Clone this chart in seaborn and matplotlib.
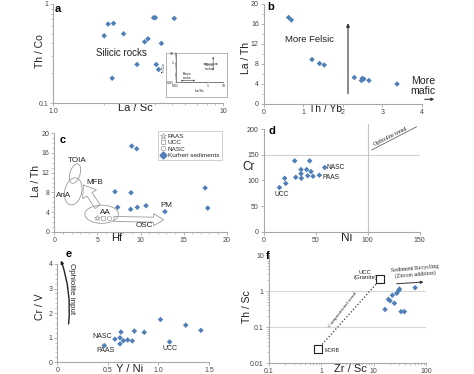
import matplotlib

matplotlib.use("Agg")

import matplotlib.pyplot as plt
import seaborn as sns
from matplotlib.lines import Line2D
from matplotlib.patches import Ellipse
from matplotlib.ticker import AutoMinorLocator, NullFormatter

# ---- data ----
a_la_sc = [2.00, 2.11, 2.27, 2.60, 3.12, 2.23, 3.46, 3.62, 3.91, 4.00, 4.05, 4.18, 4.34, 5.17]
a_th_co = [0.478, 0.627, 0.637, 0.50, 0.245, 0.178, 0.415, 0.445, 0.727, 0.727, 0.245, 0.218, 0.40, 0.716]

b_th_yb = [0.63, 0.70, 1.22, 1.41, 1.53, 2.29, 2.47, 2.49, 2.53, 2.66, 3.37]
b_la_th = [17.3, 16.8, 8.9, 8.1, 7.8, 5.3, 4.7, 5.1, 5.0, 4.7, 4.0]

c_hf = [8.98, 9.56, 17.5, 7.04, 8.9, 10.64, 7.35, 9.63, 8.86, 17.8, 12.84]
c_la_th = [17.4, 16.85, 8.9, 8.13, 7.93, 5.28, 4.96, 4.96, 4.55, 4.8, 4.07]

d_ni = [15.1, 20.2, 21.2, 29.8, 30.8, 35.9, 35.9, 36.2, 41.3, 42.3, 44.2, 45.5, 47.4, 53.5, 58.7]
d_cr = [86, 104, 94, 138, 106, 121, 113, 104, 121, 109, 138, 117, 108, 110, 125]

e_y_ni = [0.465, 0.570, 0.620, 0.630, 0.620, 0.653, 0.696, 0.742, 0.762, 0.86, 1.02, 1.11, 1.27, 1.42]
e_cr_v = [0.68, 0.94, 1.00, 1.23, 0.75, 0.88, 0.91, 0.87, 1.27, 1.22, 1.74, 0.83, 1.51, 1.30]

f_zr_sc = [16.4, 19.0, 20.4, 22.6, 24.7, 27.4, 29.9, 30.8, 33.1, 38.3, 61.2]
f_th_sc = [0.31, 0.59, 0.54, 0.77, 0.46, 0.87, 1.03, 1.14, 0.27, 0.27, 1.24]

f_ref_names = ["UCC\n(Granite)", "MORB"]
f_ref_zr_sc = [13.4, 0.87]
f_ref_th_sc = [2.12, 0.025]

sns.set_style("ticks")
plt.rcParams["font.family"] = ["Liberation Sans", "DejaVu Sans"]

BLUE = "#4f7fb8"
GRAY = "#a8a8a8"
TXT = "#222222"
SERIF = ["Liberation Serif", "DejaVu Serif"]

W, H = 474, 374
fig = plt.figure(figsize=(W / 100, H / 100), dpi=100)


def add_axes(x0, y0, x1, y1):
    return fig.add_axes([x0 / W, 1 - y1 / H, (x1 - x0) / W, (y1 - y0) / H])


def style(ax):
    for s in ["top", "right"]:
        ax.spines[s].set_visible(False)
    for s in ["left", "bottom"]:
        ax.spines[s].set_color(GRAY)
        ax.spines[s].set_linewidth(0.8)
    ax.tick_params(which="both", direction="out", color=GRAY, labelsize=5,
                   labelcolor="#444444", pad=1)
    ax.tick_params(which="major", length=2.5, width=0.6)
    ax.tick_params(which="minor", length=1.5, width=0.5)


def labels(ax, xl, xpos, yl, ypos, xsize=8, ysize=7.5, yrot=90):
    ax.set_xlabel(xl, fontsize=xsize, va="center", ha="center", color=TXT)
    ax.xaxis.set_label_coords(*xpos)
    ax.set_ylabel(yl, fontsize=ysize, va="center", ha="center", rotation=yrot, color=TXT)
    ax.yaxis.set_label_coords(*ypos)


def dots(ax, x, y):
    sns.scatterplot(x=x, y=y, ax=ax, marker="D", s=8, color=BLUE,
                    edgecolor="none", linewidth=0, zorder=3)


def letter(px, py, s):
    fig.text(px / W, 1 - py / H, s, fontsize=8, fontweight="bold",
             ha="left", va="center", color="black")


# ---------------- a ----------------
ax = add_axes(53, 4, 223, 103)
style(ax)
dots(ax, a_la_sc, a_th_co)
ax.set_xscale("log")
ax.set_yscale("log")
ax.set_xlim(1, 10)
ax.set_ylim(0.1, 1)
ax.set_xticks([1, 10])
ax.set_xticklabels(["1.0", "10"])
ax.set_yticks([0.1, 1])
ax.set_yticklabels(["0.1", "1"])
ax.xaxis.set_minor_formatter(NullFormatter())
ax.yaxis.set_minor_formatter(NullFormatter())
labels(ax, "La / Sc", (0.486, -0.054), "Th / Co", (-0.076, 0.527))
ax.text(2.54, 0.32, "Silicic rocks", fontsize=7, ha="center", va="center", color=TXT)
letter(55, 9, "a")

# inset
box = add_axes(166, 53, 227, 97)
box.set_xticks([])
box.set_yticks([])
for s in box.spines.values():
    s.set_color(GRAY)
    s.set_linewidth(0.6)
ins = add_axes(175.7, 53.3, 223.3, 82.3)
ins.patch.set_alpha(0)
for s in ["top", "right"]:
    ins.spines[s].set_visible(False)
for s in ["left", "bottom"]:
    ins.spines[s].set_color("#555555")
    ins.spines[s].set_linewidth(0.5)
ins.set_xscale("log")
ins.set_yscale("log")
ins.set_xlim(0.01, 10)
ins.set_ylim(0.01, 10)
ins.set_xticks([0.01, 1, 10])
ins.set_xticklabels(["0.01", "1", "10"])
ins.set_yticks([0.01, 1, 10])
ins.set_yticklabels(["0.01", "1", "10"])
ins.xaxis.set_minor_formatter(NullFormatter())
ins.yaxis.set_minor_formatter(NullFormatter())
ins.tick_params(which="both", labelsize=2.6, length=1, width=0.3, pad=0.5, color="#555555")
ins.set_xlabel("La/Sc", fontsize=2.8, labelpad=0.5)
ins.set_ylabel("Th/Co", fontsize=2.8, labelpad=0.5)
arw = dict(arrowstyle="<->", lw=0.4, color="#333333", mutation_scale=2.5)
ins.annotate("", xy=(0.25, 0.015), xytext=(0.014, 0.015), arrowprops=arw)
ins.text(0.05, 0.045, "Basic\nrocks", fontsize=2.6, ha="center", va="center", linespacing=0.9)
ins.annotate("", xy=(2.3, 8.5), xytext=(2.3, 0.085), arrowprops=arw)
ins.annotate("", xy=(6.8, 0.78), xytext=(0.37, 0.78), arrowprops=arw)
ins.text(1.3, 0.36, "Silicic\nrocks", fontsize=2.6, ha="center", va="center", linespacing=0.9)

# ---------------- b ----------------
ax = add_axes(263.7, 4, 422, 104)
style(ax)
dots(ax, b_th_yb, b_la_th)
ax.set_xlim(0, 4)
ax.set_ylim(0, 20)
ax.set_xticks([0, 1, 2, 3, 4])
ax.set_yticks([0, 4, 8, 12, 16, 20])
ax.yaxis.set_minor_locator(AutoMinorLocator(2))
labels(ax, "Th / Yb", (0.389, -0.053), "La / Th", (-0.112, 0.457), xsize=7.4)
ax.annotate("", xy=(2.13, 16.7), xytext=(2.13, 1.5),
            arrowprops=dict(arrowstyle="-|>", lw=0.8, color="#333333", mutation_scale=5))
ax.text(1.15, 13, "More Felsic", fontsize=6.8, ha="center", va="center", color=TXT)
ax.text(4.02, 3.7, "More\nmafic", fontsize=7.6, ha="center", va="center",
        linespacing=1.0, color=TXT, clip_on=False)
ax.annotate("", xy=(4.38, 0.94), xytext=(4.0, 0.94), annotation_clip=False,
            arrowprops=dict(arrowstyle="-|>", lw=0.8, color="#333333", mutation_scale=4))
letter(267.7, 7.3, "b")

# ---------------- c ----------------
ax = add_axes(54.3, 133.3, 226.7, 231.7)
style(ax)
dots(ax, c_hf, c_la_th)
ax.set_xlim(0, 20)
ax.set_ylim(0, 20)
ax.set_xticks([0, 5, 10, 15, 20])
ax.set_yticks([0, 4, 8, 12, 16, 20])
ax.xaxis.set_minor_locator(AutoMinorLocator(5))
ax.yaxis.set_minor_locator(AutoMinorLocator(4))
labels(ax, "Hf", (0.362, -0.067), "La / Th", (-0.108, 0.52))
field = dict(fill=False, ec="#9a9a9a", lw=0.6)
ax.add_patch(Ellipse((2.4, 11.8), 1.2, 4.0, angle=-8, **field))
ax.add_patch(Ellipse((2.2, 8.2), 2.0, 5.5, angle=-5, **field))
ax.add_patch(Ellipse((5.5, 3.55), 3.9, 3.7, **field))
hollow = dict(fc="none", ec="#9a9a9a", lw=0.6)
ax.annotate("", xy=(3.2, 10.0), xytext=(5.2, 4.6),
            arrowprops=dict(arrowstyle="simple,head_width=1.3,head_length=0.9,tail_width=0.5",
                            mutation_scale=9, **hollow))
ax.annotate("", xy=(13.0, 2.4), xytext=(6.6, 2.6),
            arrowprops=dict(arrowstyle="simple,head_width=1.1,head_length=0.9,tail_width=0.45",
                            mutation_scale=8, **hollow))
for s, xy in [("TOIA", (2.6, 14.4)), ("MFB", (4.7, 10.0)), ("AnA", (1.05, 7.3)),
              ("AA", (5.9, 3.94)), ("OSC", (10.4, 1.22)), ("PM", (13.0, 5.4))]:
    ax.text(*xy, s, fontsize=5.8, ha="center", va="center", color=TXT)
ref_style = dict(ls="none", mfc="none", mec="#9a9a9a", mew=0.5)
ax.plot([4.9], [2.7], marker="*", ms=4, **ref_style)
ax.plot([5.7], [2.7], marker="s", ms=2.8, **ref_style)
ax.plot([6.4], [2.7], marker="o", ms=3, **ref_style)
handles = [
    Line2D([], [], marker="*", ms=4.5, label="PAAS", **ref_style),
    Line2D([], [], marker="s", ms=3, label="UCC", **ref_style),
    Line2D([], [], marker="o", ms=3.3, label="NASC", **ref_style),
    Line2D([], [], marker="D", ms=3.5, ls="none", color=BLUE, label="Kurheri sediments"),
]
leg = ax.legend(handles=handles, loc="upper right", bbox_to_anchor=(0.971, 1.023),
                fontsize=4.6, frameon=True, fancybox=False, borderpad=0.35,
                labelspacing=0.15, handletextpad=0.2, handlelength=1.0, borderaxespad=0)
leg.get_frame().set_edgecolor("#bbbbbb")
leg.get_frame().set_linewidth(0.6)
letter(60, 140, "c")

# ---------------- d ----------------
ax = add_axes(263.7, 129, 419.7, 231.7)
style(ax)
ax.axhline(150, color="#cfcfcf", lw=0.8, zorder=1)
ax.plot([100, 100], [0, 210], color="#c4c4c4", lw=0.8, clip_on=False, zorder=1)
dots(ax, d_ni, d_cr)
ax.set_xlim(0, 150)
ax.set_ylim(0, 200)
ax.set_xticks([0, 50, 100, 150])
ax.set_yticks([0, 50, 100, 150, 200])
labels(ax, "Ni", (0.534, -0.064), "Cr", (-0.096, 0.627), xsize=8.5, ysize=8.5, yrot=0)
ax.text(60.5, 125, "NASC", fontsize=4.8, ha="left", va="center", color=TXT)
ax.text(56.5, 105, "PAAS", fontsize=4.8, ha="left", va="center", color=TXT)
ax.text(17.6, 73, "UCC", fontsize=4.8, ha="center", va="center", color=TXT)
ax.plot([103.8, 147.1], [159.1, 204.5], color="#666666", lw=0.6, clip_on=False)
ax.text(121.4, 186, "Ophiolite trend", fontsize=4.2, family=SERIF, rotation=26.5,
        ha="center", va="center", color=TXT, clip_on=False)
letter(268.7, 131, "d")

# ---------------- e ----------------
ax = add_axes(57.3, 264, 209, 362.3)
style(ax)
dots(ax, e_y_ni, e_cr_v)
ax.set_xlim(0, 1.5)
ax.set_ylim(0, 4)
ax.set_xticks([0, 0.5, 1.0, 1.5])
ax.set_xticklabels(["0", "0.5", "1.0", "1.5"])
ax.set_yticks([0, 1, 2, 3, 4])
ax.yaxis.set_minor_locator(AutoMinorLocator(5))
labels(ax, "Y / Ni", (0.479, -0.071), "Cr / V", (-0.114, 0.566))
ax.annotate("", xy=(0.027, 4.25), xytext=(0.109, 1.45), annotation_clip=False,
            arrowprops=dict(arrowstyle="-|>", lw=1.0, color="#222222", mutation_scale=4,
                            connectionstyle="arc3,rad=0.12"))
ax.text(0.142, 3.0, "Ophiolite input", fontsize=5.8, rotation=-90,
        ha="center", va="center", color=TXT)
ax.text(0.44, 1.04, "NASC", fontsize=5, ha="center", va="center", color=TXT)
ax.text(0.472, 0.46, "PAAS", fontsize=5, ha="center", va="center", color=TXT)
ax.text(1.114, 0.57, "UCC", fontsize=5, ha="center", va="center", color=TXT)
letter(66, 254, "e")

# ---------------- f ----------------
ax = add_axes(268.7, 255, 426.3, 363.3)
style(ax)
ax.axhline(1, color="#d6d6d6", lw=0.8, zorder=1)
ax.axhline(0.1, color="#d6d6d6", lw=0.8, zorder=1)
ax.plot(f_ref_zr_sc, f_ref_th_sc, ls=":", color="#333333", lw=0.9, zorder=2)
sns.scatterplot(x=f_ref_zr_sc, y=f_ref_th_sc, ax=ax, marker="s", s=28,
                facecolor="white", edgecolor="#222222", linewidth=0.8, zorder=3)
dots(ax, f_zr_sc, f_th_sc)
ax.set_xscale("log")
ax.set_yscale("log")
ax.set_xlim(0.1, 100)
ax.set_ylim(0.01, 10)
ax.set_xticks([0.1, 1, 10, 100])
ax.set_xticklabels(["0.1", "1", "10", "100"])
ax.set_yticks([0.01, 0.1, 1, 10])
ax.set_yticklabels(["0.01", "0.1", "1", "10"])
ax.xaxis.set_minor_formatter(NullFormatter())
ax.yaxis.set_minor_formatter(NullFormatter())
labels(ax, "Zr / Sc", (0.518, -0.055), "Th / Sc", (-0.138, 0.523))
ax.text(6.9, 2.79, f_ref_names[0], fontsize=4.3, ha="center", va="center",
        linespacing=1.1, color=TXT)
ax.text(1.15, 0.0233, f_ref_names[1], fontsize=3.6, ha="left", va="center", color=TXT)
ax.text(2.6, 0.3, "Compositional trend", fontsize=3.8, family=SERIF, rotation=52,
        ha="center", va="center", color=TXT)
ax.annotate("", xy=(100, 1.8), xytext=(24, 1.58), annotation_clip=False,
            arrowprops=dict(arrowstyle="-|>", lw=0.7, color="#333333", mutation_scale=4))
ax.text(62, 3.45, "Sediment Recycling\n(Zircon addition)", fontsize=4.2, family=SERIF,
        rotation=5, ha="center", va="center", linespacing=1.1, color=TXT, clip_on=False)
letter(265.3, 256, "f")

fig.savefig("out.png", dpi=100)
